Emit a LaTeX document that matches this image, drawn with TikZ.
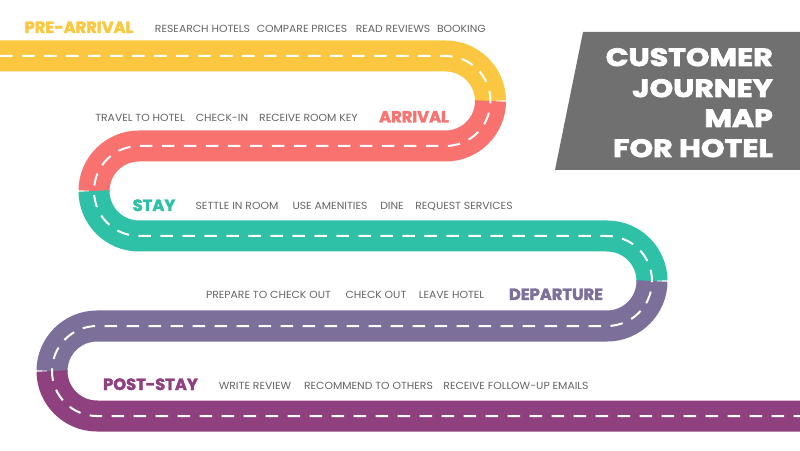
\documentclass[tikz,border=0pt]{standalone}
\usepackage{fontspec}
\setmainfont{Poppins}[BoldFeatures={FakeBold=2.2}]
\newfontfamily\itemfont[FakeStretch=1.05]{Poppins}
\newfontfamily\ttlfont[FakeStretch=1.2,BoldFeatures={FakeBold=3}]{Poppins}
\definecolor{cYel}{RGB}{251,199,64}
\definecolor{cRed}{RGB}{248,114,111}
\definecolor{cTeal}{RGB}{46,193,168}
\definecolor{cPur}{RGB}{124,111,154}
\definecolor{cMag}{RGB}{143,64,127}
\definecolor{cBox}{RGB}{112,112,112}
\definecolor{cTxt}{RGB}{100,100,100}
\begin{document}
\begin{tikzpicture}[x=1pt,y=1pt,
  road/.style={line width=31pt},
  lane/.style={white, line width=2pt, dash pattern=on 12.5pt off 9.5pt},
  item/.style={anchor=base, text=cTxt, inner sep=0pt, font=\itemfont\fontsize{10.3}{12}\selectfont},
  phase/.style={anchor=base, inner sep=0pt, font=\bfseries\fontsize{16.3}{19}\selectfont},
  ttl/.style={anchor=base east, inner sep=0pt, text=white, font=\ttlfont\bfseries\fontsize{25}{29}\selectfont}]
\useasboundingbox (0,0) rectangle (800,450);
% road segments
\draw[road, cYel] (0,394) -- (445.5,394) arc[start angle=90,end angle=0,radius=45pt];
\draw[road, cRed] (490.5,349) arc[start angle=0,end angle=-90,radius=45pt] -- (139,304) arc[start angle=90,end angle=180,radius=45pt];
\draw[road, cTeal] (94,259) arc[start angle=180,end angle=270,radius=45pt] -- (607,214) arc[start angle=90,end angle=0,radius=45pt];
\draw[road, cPur] (652,169) arc[start angle=0,end angle=-90,radius=45pt] -- (97,124) arc[start angle=90,end angle=180,radius=45pt];
\draw[road, cMag] (52,79) arc[start angle=180,end angle=270,radius=45pt] -- (800,34);
% lane markings
\draw[lane] (0,394) -- (445.5,394) arc[start angle=90,end angle=-90,radius=45pt]
  -- (139,304) arc[start angle=90,end angle=270,radius=45pt]
  -- (607,214) arc[start angle=90,end angle=-90,radius=45pt]
  -- (97,124) arc[start angle=90,end angle=270,radius=45pt]
  -- (800,34);
% title box
\fill[cBox] (583,418) -- (800,418) -- (800,280) -- (555,280) -- cycle;
\node[ttl] (t1) at (773,384) {CUSTOMER};
\node[ttl] (t2) at (773,353) {JOURNEY};
\node[ttl] (t3) at (773,323) {MAP};
\node[ttl] (t4) at (773,293) {FOR HOTEL};
% row 1
\node[phase, text=cYel] (p1) at (79,417) {PRE-ARRIVAL};
\node[item] (a1) at (202.5,417.7) {RESEARCH HOTELS};
\node[item] (a2) at (302,417.7) {COMPARE PRICES};
\node[item] (a3) at (393,417.7) {READ REVIEWS};
\node[item] (a4) at (461.5,417.7) {BOOKING};
% row 2
\node[item] (b1) at (140,328.3) {TRAVEL TO HOTEL};
\node[item] (b2) at (222,328.3) {CHECK-IN};
\node[item] (b3) at (308.5,328.3) {RECEIVE ROOM KEY};
\node[phase, text=cRed] (p2) at (414,327.5) {ARRIVAL};
% row 3
\node[phase, text=cTeal] (p3) at (154,239) {STAY};
\node[item] (c1) at (237,240) {SETTLE IN ROOM};
\node[item] (c2) at (330,240) {USE AMENITIES};
\node[item] (c3) at (392,240) {DINE};
\node[item] (c4) at (464,240) {REQUEST SERVICES};
% row 4
\node[item] (d1) at (268.5,151) {PREPARE TO CHECK OUT};
\node[item] (d2) at (376,151) {CHECK OUT};
\node[item] (d3) at (451.5,151) {LEAVE HOTEL};
\node[phase, text=cPur] (p4) at (556,150) {DEPARTURE};
% row 5
\node[phase, text=cMag] (p5) at (150.5,60) {POST-STAY};
\node[item] (e1) at (255,60.7) {WRITE REVIEW};
\node[item] (e2) at (368.5,60.7) {RECOMMEND TO OTHERS};
\node[item] (e3) at (516,60.7) {RECEIVE FOLLOW-UP EMAILS};
\end{tikzpicture}
\end{document}
